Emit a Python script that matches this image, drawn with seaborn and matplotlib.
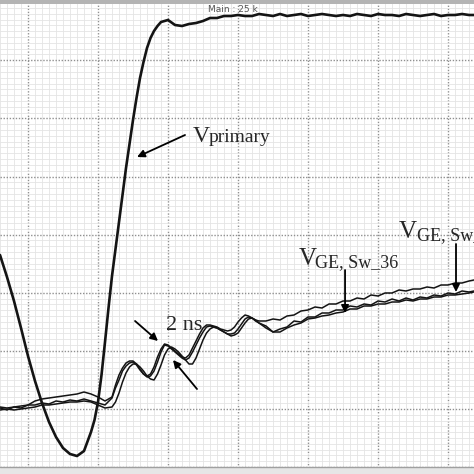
import numpy as np
import pandas as pd
import matplotlib
matplotlib.use("Agg")
import matplotlib.pyplot as plt
from matplotlib.ticker import MultipleLocator
import seaborn as sns

# time axis in ns (10 ns / div), amplitude in screen counts (58.1 / div)
t_primary = [-4, -3, -2, -1, 0, 1, 2, 3, 4, 5, 6, 7, 8, 9, 9.5, 10, 10.5, 11, 11.5, 12, 12.5,
             13, 13.5, 14, 14.5, 15, 15.5, 16, 16.5, 17, 17.5, 18, 18.5, 19, 20, 21, 22, 23, 24,
             25, 26, 27, 28, 29, 30, 31, 32, 33, 34, 35, 36, 37, 38, 39, 40, 41, 42, 43, 44, 45,
             46, 47, 48, 49, 50, 51, 52, 53, 54, 55, 56, 57, 58, 59, 60, 61, 62, 63, 63.7]
v_primary = [212, 190, 166, 139, 111, 86, 64, 45, 30, 19, 13, 11, 16, 35, 47, 65, 92, 125, 159, 191, 218,
             245, 272, 299, 323, 347, 369, 389, 405, 419, 429, 436, 441, 445, 447, 442, 441, 443, 444,
             446, 449, 449, 451, 451, 452, 451, 451, 453, 452, 451, 453, 451, 452, 453, 451, 452, 453, 452, 451, 452,
             451, 453, 452, 451, 453, 452, 452, 451, 453, 452, 451, 452, 453, 451, 452, 452, 453, 452, 452]

t_ge = [-4, -3, -2, -1, 0, 1, 2, 3, 4, 5, 6, 7, 8, 9, 10, 11, 12, 12.5, 13, 13.5, 14, 14.5, 15, 15.5,
        16, 16.5, 17, 17.5, 18, 18.5, 19, 19.5, 20, 20.5, 21, 21.5, 22, 22.5, 23, 23.5, 24, 24.5, 25,
        25.5, 26, 26.5, 27, 27.5, 28, 28.5, 29, 29.5, 30, 30.5, 31, 31.5, 32, 32.5, 33, 34, 35, 36, 37,
        38, 39, 40, 41, 42, 43, 44, 45, 46, 47, 48, 49, 50, 51, 52, 53, 54, 55, 56, 57, 58, 59, 60, 61,
        62, 63, 63.7]
v_ge_a = [59, 57, 60, 59, 62, 62, 64, 63, 66, 65, 67, 66, 68, 66, 64, 62, 69, 79, 87, 96, 101, 104, 105, 102,
          97, 93, 90, 91, 96, 105, 115, 122, 121, 118, 115, 112, 109, 107, 109, 115, 122, 129, 135,
          140, 141, 140, 139, 137, 135, 133, 133, 134, 138, 143, 148, 150, 149, 146, 144, 141, 135, 138, 140,
          146, 145, 150, 150, 154, 154, 157, 157, 161, 160, 163, 162, 166, 165, 168, 166, 169, 167, 170, 169,
          172, 171, 174, 173, 176, 175, 176]
v_ge_b = [57, 58, 57, 58, 59, 60, 62, 62, 63, 64, 65, 65, 66, 65, 62, 59, 60, 65, 74, 85, 94, 100, 103, 103,
          100, 96, 91, 88, 87, 93, 102, 112, 118, 120, 118, 115, 111, 107, 103, 103, 109, 118, 127,
          134, 138, 140, 139, 137, 135, 133, 131, 132, 134, 139, 144, 148, 149, 147, 144, 139, 135, 135, 139,
          142, 144, 148, 149, 151, 152, 154, 155, 158, 158, 161, 161, 163, 163, 165, 165, 167, 166, 168, 168,
          170, 170, 172, 172, 173, 174, 175]
v_ge_c = [60, 59, 60, 61, 62, 66, 68, 69, 70, 71, 72, 73, 75, 73, 70, 66, 70, 82, 92, 99, 104, 106, 106, 103,
          98, 93, 91, 93, 100, 110, 118, 123, 122, 119, 116, 113, 110, 109, 112, 119, 126, 133, 139,
          142, 142, 141, 140, 138, 137, 136, 137, 140, 145, 149, 152, 151, 149, 147, 146, 146, 148, 147, 151,
          152, 156, 157, 160, 159, 163, 163, 166, 166, 169, 168, 172, 171, 174, 174, 177, 176, 178, 178, 180,
          179, 182, 182, 184, 184, 186, 187]

df = pd.concat([
    pd.DataFrame({"t": t_ge, "v": v_ge_a, "trace": "a"}),
    pd.DataFrame({"t": t_ge, "v": v_ge_b, "trace": "b"}),
    pd.DataFrame({"t": t_ge, "v": v_ge_c, "trace": "c"}),
])

sns.set_style("white")
fig = plt.figure(figsize=(4.74, 4.74), dpi=100)
ax = fig.add_axes([0, 0, 1, 1])

ax.set_xlim(-4, 63.71)
ax.set_ylim(-7, 467)
ax.xaxis.set_major_locator(MultipleLocator(10))
ax.xaxis.set_minor_locator(MultipleLocator(1))
ax.yaxis.set_major_locator(MultipleLocator(58.1))
ax.yaxis.set_minor_locator(MultipleLocator(5.81))
ax.grid(which="minor", color="#e4e4e4", lw=0.6, ls="-")
ax.grid(which="major", color="#909090", lw=1.0, ls=(0, (1, 1.2)))
ax.set_axisbelow(True)
ax.tick_params(which="both", length=0, labelbottom=False, labelleft=False)
for s in ax.spines.values():
    s.set_visible(False)

# screen border bands
ax.axhspan(463.5, 467, color="#b4b4b4", lw=0, zorder=1)
ax.axhspan(-7, 0, color="#e6e6e6", lw=0, zorder=1)
ax.axhline(0, color="#a0a0a0", lw=1.0, zorder=1)

sns.lineplot(data=df, x="t", y="v", units="trace", estimator=None, sort=False,
             color="#141414", lw=1.1, ax=ax, zorder=3)
sns.lineplot(x=t_primary, y=v_primary, sort=False, color="#141414", lw=1.9, ax=ax, zorder=3)
ax.set_xlabel("")
ax.set_ylabel("")

ax.text(25.71, 458, "Main : 25 k", fontsize=6.5, color="#555555", va="center", ha="left")

serif = "Liberation Serif"
ax.text(23.57, 325, "V", fontsize=17, family=serif, va="baseline")
ax.text(25.8, 325, "primary", fontsize=14, family=serif, va="baseline")
ax.text(19.71, 137, "2 ns", fontsize=16, family=serif, va="baseline")
ax.text(38.71, 202, "V", fontsize=18, family=serif, va="baseline")
ax.text(41.0, 200, "GE, Sw_36", fontsize=13, family=serif, va="baseline")
ax.text(53.0, 229, "V", fontsize=18, family=serif, va="baseline")
ax.text(55.6, 227, "GE, Sw_37", fontsize=13, family=serif, va="baseline")

arrow = dict(arrowstyle="-|>", color="black", lw=1.3, mutation_scale=11, shrinkA=0, shrinkB=0)
for start, end in [((22.43, 332), (15.57, 310)),
                   ((15.29, 146), (18.57, 126)),
                   ((24.14, 78), (20.71, 107)),
                   ((45.29, 197), (45.29, 154)),
                   ((61.14, 223), (61.14, 175))]:
    ax.annotate("", xy=end, xytext=start, arrowprops=arrow)

fig.savefig("out.png", dpi=100)
